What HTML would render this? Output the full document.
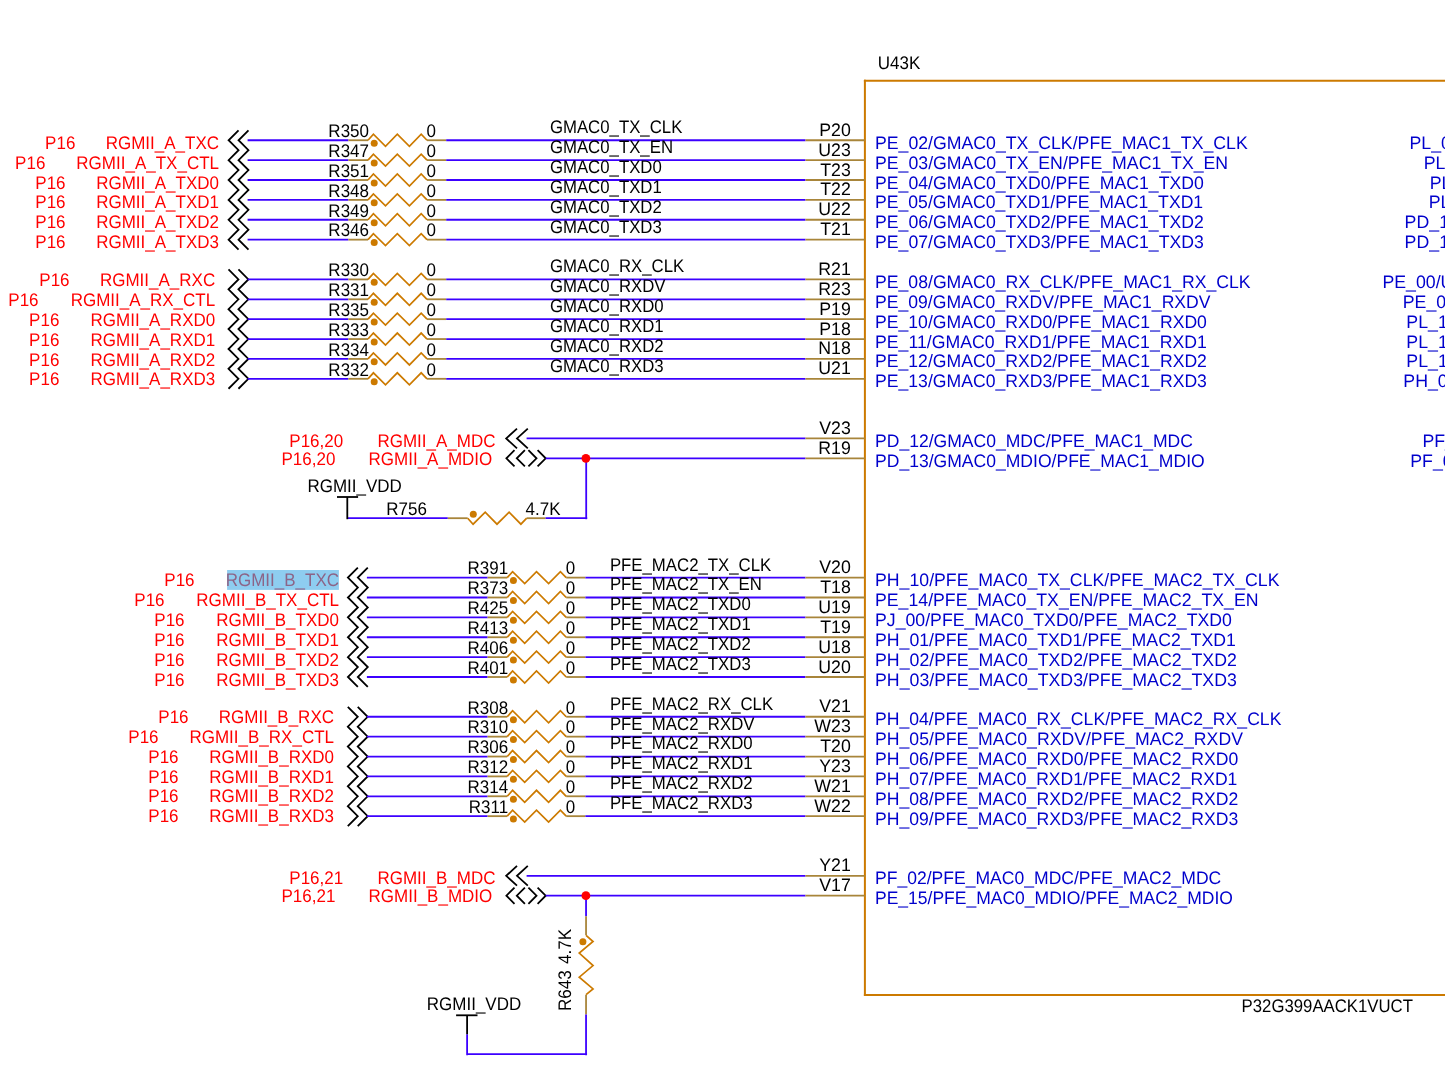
<!DOCTYPE html>
<html><head><meta charset="utf-8"><style>
html,body{margin:0;padding:0;background:#fff;width:1445px;height:1084px;overflow:hidden}
svg{position:absolute;left:0;top:0;font-family:"Liberation Sans",sans-serif;text-rendering:geometricPrecision;will-change:transform}
</style></head><body>
<svg width="1445" height="1084" viewBox="0 0 1445 1084">
<line x1="863.90" y1="80.80" x2="1450.00" y2="80.80" stroke="#cc7a00" stroke-width="2"/>
<line x1="864.90" y1="79.80" x2="864.90" y2="996.00" stroke="#cc7a00" stroke-width="2"/>
<line x1="863.90" y1="995.00" x2="1450.00" y2="995.00" stroke="#cc7a00" stroke-width="2"/>
<text transform="translate(877.70,68.90) scale(1,1.07)" font-size="17" fill="#000000">U43K</text>
<text transform="translate(1241.60,1012.00) scale(1,1.086)" font-size="16.75" fill="#000000">P32G399AACK1VUCT</text>
<polyline points="238.54,130.31 228.60,140.25 238.54,150.19 228.60,160.13 238.54,170.07 228.60,180.01 238.54,189.95 228.60,199.89 238.54,209.83 228.60,219.77 238.54,229.71 228.60,239.65 238.54,249.59" fill="none" stroke="#000000" stroke-width="1.8"/>
<polyline points="248.48,130.31 238.54,140.25 248.48,150.19 238.54,160.13 248.48,170.07 238.54,180.01 248.48,189.95 238.54,199.89 248.48,209.83 238.54,219.77 248.48,229.71 238.54,239.65 248.48,249.59" fill="none" stroke="#000000" stroke-width="1.8"/>
<line x1="247.60" y1="140.25" x2="348.40" y2="140.25" stroke="#3c00ff" stroke-width="1.8"/>
<line x1="348.40" y1="140.25" x2="368.00" y2="140.25" stroke="#a8853a" stroke-width="1.8"/>
<polyline points="368.00,140.25 373.40,134.25 385.50,146.25 397.30,134.25 409.40,146.25 421.20,134.25 427.00,140.25" fill="none" stroke="#cc7a00" stroke-width="1.7"/>
<line x1="427.00" y1="140.25" x2="446.20" y2="140.25" stroke="#a8853a" stroke-width="1.8"/>
<circle cx="374.20" cy="143.15" r="3.5" fill="#cc7a00"/>
<line x1="446.20" y1="140.25" x2="805.50" y2="140.25" stroke="#3c00ff" stroke-width="1.8"/>
<line x1="805.50" y1="140.25" x2="864.90" y2="140.25" stroke="#a8853a" stroke-width="1.8"/>
<text transform="translate(369.00,137.05) scale(1,1.07)" font-size="17" fill="#000000" text-anchor="end">R350</text>
<text transform="translate(426.60,137.05) scale(1,1.07)" font-size="17" fill="#000000">0</text>
<text transform="translate(549.90,133.15) scale(1,1.083)" font-size="16.8" fill="#000000">GMAC0_TX_CLK</text>
<text transform="translate(850.80,135.75) scale(1,1.02)" font-size="17.75" fill="#000000" text-anchor="end">P20</text>
<text transform="translate(875.00,148.75) scale(1,1.02)" font-size="17.75" fill="#0000cc" textLength="372.7" lengthAdjust="spacingAndGlyphs">PE_02/GMAC0_TX_CLK/PFE_MAC1_TX_CLK</text>
<text transform="translate(219.00,148.85) scale(1,1.07)" font-size="17" fill="#ff0000" text-anchor="end">RGMII_A_TXC</text>
<text transform="translate(45.10,148.85) scale(1,1.07)" font-size="17" fill="#ff0000">P16</text>
<line x1="247.60" y1="160.13" x2="348.40" y2="160.13" stroke="#3c00ff" stroke-width="1.8"/>
<line x1="348.40" y1="160.13" x2="368.00" y2="160.13" stroke="#a8853a" stroke-width="1.8"/>
<polyline points="368.00,160.13 373.40,154.13 385.50,166.13 397.30,154.13 409.40,166.13 421.20,154.13 427.00,160.13" fill="none" stroke="#cc7a00" stroke-width="1.7"/>
<line x1="427.00" y1="160.13" x2="446.20" y2="160.13" stroke="#a8853a" stroke-width="1.8"/>
<circle cx="374.20" cy="163.03" r="3.5" fill="#cc7a00"/>
<line x1="446.20" y1="160.13" x2="805.50" y2="160.13" stroke="#3c00ff" stroke-width="1.8"/>
<line x1="805.50" y1="160.13" x2="864.90" y2="160.13" stroke="#a8853a" stroke-width="1.8"/>
<text transform="translate(369.00,156.93) scale(1,1.07)" font-size="17" fill="#000000" text-anchor="end">R347</text>
<text transform="translate(426.60,156.93) scale(1,1.07)" font-size="17" fill="#000000">0</text>
<text transform="translate(549.90,153.03) scale(1,1.083)" font-size="16.8" fill="#000000">GMAC0_TX_EN</text>
<text transform="translate(850.80,155.63) scale(1,1.02)" font-size="17.75" fill="#000000" text-anchor="end">U23</text>
<text transform="translate(875.00,168.63) scale(1,1.02)" font-size="17.75" fill="#0000cc" textLength="353.15" lengthAdjust="spacingAndGlyphs">PE_03/GMAC0_TX_EN/PFE_MAC1_TX_EN</text>
<text transform="translate(219.00,168.73) scale(1,1.07)" font-size="17" fill="#ff0000" text-anchor="end">RGMII_A_TX_CTL</text>
<text transform="translate(15.10,168.73) scale(1,1.07)" font-size="17" fill="#ff0000">P16</text>
<line x1="247.60" y1="180.01" x2="348.40" y2="180.01" stroke="#3c00ff" stroke-width="1.8"/>
<line x1="348.40" y1="180.01" x2="368.00" y2="180.01" stroke="#a8853a" stroke-width="1.8"/>
<polyline points="368.00,180.01 373.40,174.01 385.50,186.01 397.30,174.01 409.40,186.01 421.20,174.01 427.00,180.01" fill="none" stroke="#cc7a00" stroke-width="1.7"/>
<line x1="427.00" y1="180.01" x2="446.20" y2="180.01" stroke="#a8853a" stroke-width="1.8"/>
<circle cx="374.20" cy="182.91" r="3.5" fill="#cc7a00"/>
<line x1="446.20" y1="180.01" x2="805.50" y2="180.01" stroke="#3c00ff" stroke-width="1.8"/>
<line x1="805.50" y1="180.01" x2="864.90" y2="180.01" stroke="#a8853a" stroke-width="1.8"/>
<text transform="translate(369.00,176.81) scale(1,1.07)" font-size="17" fill="#000000" text-anchor="end">R351</text>
<text transform="translate(426.60,176.81) scale(1,1.07)" font-size="17" fill="#000000">0</text>
<text transform="translate(549.90,172.91) scale(1,1.083)" font-size="16.8" fill="#000000">GMAC0_TXD0</text>
<text transform="translate(850.80,175.51) scale(1,1.02)" font-size="17.75" fill="#000000" text-anchor="end">T23</text>
<text transform="translate(875.00,188.51) scale(1,1.02)" font-size="17.75" fill="#0000cc" textLength="328.78" lengthAdjust="spacingAndGlyphs">PE_04/GMAC0_TXD0/PFE_MAC1_TXD0</text>
<text transform="translate(219.00,188.61) scale(1,1.07)" font-size="17" fill="#ff0000" text-anchor="end">RGMII_A_TXD0</text>
<text transform="translate(35.30,188.61) scale(1,1.07)" font-size="17" fill="#ff0000">P16</text>
<line x1="247.60" y1="199.89" x2="348.40" y2="199.89" stroke="#3c00ff" stroke-width="1.8"/>
<line x1="348.40" y1="199.89" x2="368.00" y2="199.89" stroke="#a8853a" stroke-width="1.8"/>
<polyline points="368.00,199.89 373.40,193.89 385.50,205.89 397.30,193.89 409.40,205.89 421.20,193.89 427.00,199.89" fill="none" stroke="#cc7a00" stroke-width="1.7"/>
<line x1="427.00" y1="199.89" x2="446.20" y2="199.89" stroke="#a8853a" stroke-width="1.8"/>
<circle cx="374.20" cy="202.79" r="3.5" fill="#cc7a00"/>
<line x1="446.20" y1="199.89" x2="805.50" y2="199.89" stroke="#3c00ff" stroke-width="1.8"/>
<line x1="805.50" y1="199.89" x2="864.90" y2="199.89" stroke="#a8853a" stroke-width="1.8"/>
<text transform="translate(369.00,196.69) scale(1,1.07)" font-size="17" fill="#000000" text-anchor="end">R348</text>
<text transform="translate(426.60,196.69) scale(1,1.07)" font-size="17" fill="#000000">0</text>
<text transform="translate(549.90,192.79) scale(1,1.083)" font-size="16.8" fill="#000000">GMAC0_TXD1</text>
<text transform="translate(850.80,195.39) scale(1,1.02)" font-size="17.75" fill="#000000" text-anchor="end">T22</text>
<text transform="translate(875.00,208.39) scale(1,1.02)" font-size="17.75" fill="#0000cc" textLength="328.18" lengthAdjust="spacingAndGlyphs">PE_05/GMAC0_TXD1/PFE_MAC1_TXD1</text>
<text transform="translate(219.00,208.49) scale(1,1.07)" font-size="17" fill="#ff0000" text-anchor="end">RGMII_A_TXD1</text>
<text transform="translate(35.30,208.49) scale(1,1.07)" font-size="17" fill="#ff0000">P16</text>
<line x1="247.60" y1="219.77" x2="348.40" y2="219.77" stroke="#3c00ff" stroke-width="1.8"/>
<line x1="348.40" y1="219.77" x2="368.00" y2="219.77" stroke="#a8853a" stroke-width="1.8"/>
<polyline points="368.00,219.77 373.40,213.77 385.50,225.77 397.30,213.77 409.40,225.77 421.20,213.77 427.00,219.77" fill="none" stroke="#cc7a00" stroke-width="1.7"/>
<line x1="427.00" y1="219.77" x2="446.20" y2="219.77" stroke="#a8853a" stroke-width="1.8"/>
<circle cx="374.20" cy="222.67" r="3.5" fill="#cc7a00"/>
<line x1="446.20" y1="219.77" x2="805.50" y2="219.77" stroke="#3c00ff" stroke-width="1.8"/>
<line x1="805.50" y1="219.77" x2="864.90" y2="219.77" stroke="#a8853a" stroke-width="1.8"/>
<text transform="translate(369.00,216.57) scale(1,1.07)" font-size="17" fill="#000000" text-anchor="end">R349</text>
<text transform="translate(426.60,216.57) scale(1,1.07)" font-size="17" fill="#000000">0</text>
<text transform="translate(549.90,212.67) scale(1,1.083)" font-size="16.8" fill="#000000">GMAC0_TXD2</text>
<text transform="translate(850.80,215.27) scale(1,1.02)" font-size="17.75" fill="#000000" text-anchor="end">U22</text>
<text transform="translate(875.00,228.27) scale(1,1.02)" font-size="17.75" fill="#0000cc" textLength="328.78" lengthAdjust="spacingAndGlyphs">PE_06/GMAC0_TXD2/PFE_MAC1_TXD2</text>
<text transform="translate(219.00,228.37) scale(1,1.07)" font-size="17" fill="#ff0000" text-anchor="end">RGMII_A_TXD2</text>
<text transform="translate(35.30,228.37) scale(1,1.07)" font-size="17" fill="#ff0000">P16</text>
<line x1="247.60" y1="239.65" x2="348.40" y2="239.65" stroke="#3c00ff" stroke-width="1.8"/>
<line x1="348.40" y1="239.65" x2="368.00" y2="239.65" stroke="#a8853a" stroke-width="1.8"/>
<polyline points="368.00,239.65 373.40,233.65 385.50,245.65 397.30,233.65 409.40,245.65 421.20,233.65 427.00,239.65" fill="none" stroke="#cc7a00" stroke-width="1.7"/>
<line x1="427.00" y1="239.65" x2="446.20" y2="239.65" stroke="#a8853a" stroke-width="1.8"/>
<circle cx="374.20" cy="242.55" r="3.5" fill="#cc7a00"/>
<line x1="446.20" y1="239.65" x2="805.50" y2="239.65" stroke="#3c00ff" stroke-width="1.8"/>
<line x1="805.50" y1="239.65" x2="864.90" y2="239.65" stroke="#a8853a" stroke-width="1.8"/>
<text transform="translate(369.00,236.45) scale(1,1.07)" font-size="17" fill="#000000" text-anchor="end">R346</text>
<text transform="translate(426.60,236.45) scale(1,1.07)" font-size="17" fill="#000000">0</text>
<text transform="translate(549.90,232.55) scale(1,1.083)" font-size="16.8" fill="#000000">GMAC0_TXD3</text>
<text transform="translate(850.80,235.15) scale(1,1.02)" font-size="17.75" fill="#000000" text-anchor="end">T21</text>
<text transform="translate(875.00,248.15) scale(1,1.02)" font-size="17.75" fill="#0000cc" textLength="328.78" lengthAdjust="spacingAndGlyphs">PE_07/GMAC0_TXD3/PFE_MAC1_TXD3</text>
<text transform="translate(219.00,248.25) scale(1,1.07)" font-size="17" fill="#ff0000" text-anchor="end">RGMII_A_TXD3</text>
<text transform="translate(35.30,248.25) scale(1,1.07)" font-size="17" fill="#ff0000">P16</text>
<polyline points="228.50,269.47 238.44,279.41 228.50,289.35 238.44,299.29 228.50,309.23 238.44,319.17 228.50,329.11 238.44,339.05 228.50,348.99 238.44,358.93 228.50,368.87 238.44,378.81 228.50,388.75" fill="none" stroke="#000000" stroke-width="1.8"/>
<polyline points="238.44,269.47 248.38,279.41 238.44,289.35 248.38,299.29 238.44,309.23 248.38,319.17 238.44,329.11 248.38,339.05 238.44,348.99 248.38,358.93 238.44,368.87 248.38,378.81 238.44,388.75" fill="none" stroke="#000000" stroke-width="1.8"/>
<line x1="247.60" y1="279.41" x2="348.40" y2="279.41" stroke="#3c00ff" stroke-width="1.8"/>
<line x1="348.40" y1="279.41" x2="368.00" y2="279.41" stroke="#a8853a" stroke-width="1.8"/>
<polyline points="368.00,279.41 373.40,273.41 385.50,285.41 397.30,273.41 409.40,285.41 421.20,273.41 427.00,279.41" fill="none" stroke="#cc7a00" stroke-width="1.7"/>
<line x1="427.00" y1="279.41" x2="446.20" y2="279.41" stroke="#a8853a" stroke-width="1.8"/>
<circle cx="374.20" cy="282.31" r="3.5" fill="#cc7a00"/>
<line x1="446.20" y1="279.41" x2="805.50" y2="279.41" stroke="#3c00ff" stroke-width="1.8"/>
<line x1="805.50" y1="279.41" x2="864.90" y2="279.41" stroke="#a8853a" stroke-width="1.8"/>
<text transform="translate(369.00,276.21) scale(1,1.07)" font-size="17" fill="#000000" text-anchor="end">R330</text>
<text transform="translate(426.60,276.21) scale(1,1.07)" font-size="17" fill="#000000">0</text>
<text transform="translate(549.90,272.31) scale(1,1.083)" font-size="16.8" fill="#000000">GMAC0_RX_CLK</text>
<text transform="translate(850.80,274.91) scale(1,1.02)" font-size="17.75" fill="#000000" text-anchor="end">R21</text>
<text transform="translate(875.00,287.91) scale(1,1.02)" font-size="17.75" fill="#0000cc" textLength="375.65" lengthAdjust="spacingAndGlyphs">PE_08/GMAC0_RX_CLK/PFE_MAC1_RX_CLK</text>
<text transform="translate(215.20,286.01) scale(1,1.07)" font-size="17" fill="#ff0000" text-anchor="end">RGMII_A_RXC</text>
<text transform="translate(39.30,286.01) scale(1,1.07)" font-size="17" fill="#ff0000">P16</text>
<line x1="247.60" y1="299.29" x2="348.40" y2="299.29" stroke="#3c00ff" stroke-width="1.8"/>
<line x1="348.40" y1="299.29" x2="368.00" y2="299.29" stroke="#a8853a" stroke-width="1.8"/>
<polyline points="368.00,299.29 373.40,293.29 385.50,305.29 397.30,293.29 409.40,305.29 421.20,293.29 427.00,299.29" fill="none" stroke="#cc7a00" stroke-width="1.7"/>
<line x1="427.00" y1="299.29" x2="446.20" y2="299.29" stroke="#a8853a" stroke-width="1.8"/>
<circle cx="374.20" cy="302.19" r="3.5" fill="#cc7a00"/>
<line x1="446.20" y1="299.29" x2="805.50" y2="299.29" stroke="#3c00ff" stroke-width="1.8"/>
<line x1="805.50" y1="299.29" x2="864.90" y2="299.29" stroke="#a8853a" stroke-width="1.8"/>
<text transform="translate(369.00,296.09) scale(1,1.07)" font-size="17" fill="#000000" text-anchor="end">R331</text>
<text transform="translate(426.60,296.09) scale(1,1.07)" font-size="17" fill="#000000">0</text>
<text transform="translate(549.90,292.19) scale(1,1.083)" font-size="16.8" fill="#000000">GMAC0_RXDV</text>
<text transform="translate(850.80,294.79) scale(1,1.02)" font-size="17.75" fill="#000000" text-anchor="end">R23</text>
<text transform="translate(875.00,307.79) scale(1,1.02)" font-size="17.75" fill="#0000cc" textLength="335.56" lengthAdjust="spacingAndGlyphs">PE_09/GMAC0_RXDV/PFE_MAC1_RXDV</text>
<text transform="translate(215.20,305.89) scale(1,1.07)" font-size="17" fill="#ff0000" text-anchor="end">RGMII_A_RX_CTL</text>
<text transform="translate(8.30,305.89) scale(1,1.07)" font-size="17" fill="#ff0000">P16</text>
<line x1="247.60" y1="319.17" x2="348.40" y2="319.17" stroke="#3c00ff" stroke-width="1.8"/>
<line x1="348.40" y1="319.17" x2="368.00" y2="319.17" stroke="#a8853a" stroke-width="1.8"/>
<polyline points="368.00,319.17 373.40,313.17 385.50,325.17 397.30,313.17 409.40,325.17 421.20,313.17 427.00,319.17" fill="none" stroke="#cc7a00" stroke-width="1.7"/>
<line x1="427.00" y1="319.17" x2="446.20" y2="319.17" stroke="#a8853a" stroke-width="1.8"/>
<circle cx="374.20" cy="322.07" r="3.5" fill="#cc7a00"/>
<line x1="446.20" y1="319.17" x2="805.50" y2="319.17" stroke="#3c00ff" stroke-width="1.8"/>
<line x1="805.50" y1="319.17" x2="864.90" y2="319.17" stroke="#a8853a" stroke-width="1.8"/>
<text transform="translate(369.00,315.97) scale(1,1.07)" font-size="17" fill="#000000" text-anchor="end">R335</text>
<text transform="translate(426.60,315.97) scale(1,1.07)" font-size="17" fill="#000000">0</text>
<text transform="translate(549.90,312.07) scale(1,1.083)" font-size="16.8" fill="#000000">GMAC0_RXD0</text>
<text transform="translate(850.80,314.67) scale(1,1.02)" font-size="17.75" fill="#000000" text-anchor="end">P19</text>
<text transform="translate(875.00,327.67) scale(1,1.02)" font-size="17.75" fill="#0000cc" textLength="331.93" lengthAdjust="spacingAndGlyphs">PE_10/GMAC0_RXD0/PFE_MAC1_RXD0</text>
<text transform="translate(215.20,325.77) scale(1,1.07)" font-size="17" fill="#ff0000" text-anchor="end">RGMII_A_RXD0</text>
<text transform="translate(29.10,325.77) scale(1,1.07)" font-size="17" fill="#ff0000">P16</text>
<line x1="247.60" y1="339.05" x2="348.40" y2="339.05" stroke="#3c00ff" stroke-width="1.8"/>
<line x1="348.40" y1="339.05" x2="368.00" y2="339.05" stroke="#a8853a" stroke-width="1.8"/>
<polyline points="368.00,339.05 373.40,333.05 385.50,345.05 397.30,333.05 409.40,345.05 421.20,333.05 427.00,339.05" fill="none" stroke="#cc7a00" stroke-width="1.7"/>
<line x1="427.00" y1="339.05" x2="446.20" y2="339.05" stroke="#a8853a" stroke-width="1.8"/>
<circle cx="374.20" cy="341.95" r="3.5" fill="#cc7a00"/>
<line x1="446.20" y1="339.05" x2="805.50" y2="339.05" stroke="#3c00ff" stroke-width="1.8"/>
<line x1="805.50" y1="339.05" x2="864.90" y2="339.05" stroke="#a8853a" stroke-width="1.8"/>
<text transform="translate(369.00,335.85) scale(1,1.07)" font-size="17" fill="#000000" text-anchor="end">R333</text>
<text transform="translate(426.60,335.85) scale(1,1.07)" font-size="17" fill="#000000">0</text>
<text transform="translate(549.90,331.95) scale(1,1.083)" font-size="16.8" fill="#000000">GMAC0_RXD1</text>
<text transform="translate(850.80,334.55) scale(1,1.02)" font-size="17.75" fill="#000000" text-anchor="end">P18</text>
<text transform="translate(875.00,347.55) scale(1,1.02)" font-size="17.75" fill="#0000cc" textLength="331.91" lengthAdjust="spacingAndGlyphs">PE_11/GMAC0_RXD1/PFE_MAC1_RXD1</text>
<text transform="translate(215.20,345.65) scale(1,1.07)" font-size="17" fill="#ff0000" text-anchor="end">RGMII_A_RXD1</text>
<text transform="translate(29.10,345.65) scale(1,1.07)" font-size="17" fill="#ff0000">P16</text>
<line x1="247.60" y1="358.93" x2="348.40" y2="358.93" stroke="#3c00ff" stroke-width="1.8"/>
<line x1="348.40" y1="358.93" x2="368.00" y2="358.93" stroke="#a8853a" stroke-width="1.8"/>
<polyline points="368.00,358.93 373.40,352.93 385.50,364.93 397.30,352.93 409.40,364.93 421.20,352.93 427.00,358.93" fill="none" stroke="#cc7a00" stroke-width="1.7"/>
<line x1="427.00" y1="358.93" x2="446.20" y2="358.93" stroke="#a8853a" stroke-width="1.8"/>
<circle cx="374.20" cy="361.83" r="3.5" fill="#cc7a00"/>
<line x1="446.20" y1="358.93" x2="805.50" y2="358.93" stroke="#3c00ff" stroke-width="1.8"/>
<line x1="805.50" y1="358.93" x2="864.90" y2="358.93" stroke="#a8853a" stroke-width="1.8"/>
<text transform="translate(369.00,355.73) scale(1,1.07)" font-size="17" fill="#000000" text-anchor="end">R334</text>
<text transform="translate(426.60,355.73) scale(1,1.07)" font-size="17" fill="#000000">0</text>
<text transform="translate(549.90,351.83) scale(1,1.083)" font-size="16.8" fill="#000000">GMAC0_RXD2</text>
<text transform="translate(850.80,354.43) scale(1,1.02)" font-size="17.75" fill="#000000" text-anchor="end">N18</text>
<text transform="translate(875.00,367.43) scale(1,1.02)" font-size="17.75" fill="#0000cc" textLength="331.93" lengthAdjust="spacingAndGlyphs">PE_12/GMAC0_RXD2/PFE_MAC1_RXD2</text>
<text transform="translate(215.20,365.53) scale(1,1.07)" font-size="17" fill="#ff0000" text-anchor="end">RGMII_A_RXD2</text>
<text transform="translate(29.10,365.53) scale(1,1.07)" font-size="17" fill="#ff0000">P16</text>
<line x1="247.60" y1="378.81" x2="348.40" y2="378.81" stroke="#3c00ff" stroke-width="1.8"/>
<line x1="348.40" y1="378.81" x2="368.00" y2="378.81" stroke="#a8853a" stroke-width="1.8"/>
<polyline points="368.00,378.81 373.40,372.81 385.50,384.81 397.30,372.81 409.40,384.81 421.20,372.81 427.00,378.81" fill="none" stroke="#cc7a00" stroke-width="1.7"/>
<line x1="427.00" y1="378.81" x2="446.20" y2="378.81" stroke="#a8853a" stroke-width="1.8"/>
<circle cx="374.20" cy="381.71" r="3.5" fill="#cc7a00"/>
<line x1="446.20" y1="378.81" x2="805.50" y2="378.81" stroke="#3c00ff" stroke-width="1.8"/>
<line x1="805.50" y1="378.81" x2="864.90" y2="378.81" stroke="#a8853a" stroke-width="1.8"/>
<text transform="translate(369.00,375.61) scale(1,1.07)" font-size="17" fill="#000000" text-anchor="end">R332</text>
<text transform="translate(426.60,375.61) scale(1,1.07)" font-size="17" fill="#000000">0</text>
<text transform="translate(549.90,371.71) scale(1,1.083)" font-size="16.8" fill="#000000">GMAC0_RXD3</text>
<text transform="translate(850.80,374.31) scale(1,1.02)" font-size="17.75" fill="#000000" text-anchor="end">U21</text>
<text transform="translate(875.00,387.31) scale(1,1.02)" font-size="17.75" fill="#0000cc" textLength="331.93" lengthAdjust="spacingAndGlyphs">PE_13/GMAC0_RXD3/PFE_MAC1_RXD3</text>
<text transform="translate(215.20,385.41) scale(1,1.07)" font-size="17" fill="#ff0000" text-anchor="end">RGMII_A_RXD3</text>
<text transform="translate(29.10,385.41) scale(1,1.07)" font-size="17" fill="#ff0000">P16</text>
<polyline points="357.84,567.67 347.90,577.61 357.84,587.55 347.90,597.49 357.84,607.43 347.90,617.37 357.84,627.31 347.90,637.25 357.84,647.19 347.90,657.13 357.84,667.07 347.90,677.01 357.84,686.95" fill="none" stroke="#000000" stroke-width="1.8"/>
<polyline points="367.78,567.67 357.84,577.61 367.78,587.55 357.84,597.49 367.78,607.43 357.84,617.37 367.78,627.31 357.84,637.25 367.78,647.19 357.84,657.13 367.78,667.07 357.84,677.01 367.78,686.95" fill="none" stroke="#000000" stroke-width="1.8"/>
<line x1="366.90" y1="577.61" x2="487.60" y2="577.61" stroke="#3c00ff" stroke-width="1.8"/>
<line x1="487.60" y1="577.61" x2="507.20" y2="577.61" stroke="#a8853a" stroke-width="1.8"/>
<polyline points="507.20,577.61 512.60,571.61 524.70,583.61 536.50,571.61 548.60,583.61 560.40,571.61 566.20,577.61" fill="none" stroke="#cc7a00" stroke-width="1.7"/>
<line x1="566.20" y1="577.61" x2="585.40" y2="577.61" stroke="#a8853a" stroke-width="1.8"/>
<circle cx="513.40" cy="580.51" r="3.5" fill="#cc7a00"/>
<line x1="585.40" y1="577.61" x2="805.50" y2="577.61" stroke="#3c00ff" stroke-width="1.8"/>
<line x1="805.50" y1="577.61" x2="864.90" y2="577.61" stroke="#a8853a" stroke-width="1.8"/>
<text transform="translate(508.20,574.41) scale(1,1.07)" font-size="17" fill="#000000" text-anchor="end">R391</text>
<text transform="translate(565.80,574.41) scale(1,1.07)" font-size="17" fill="#000000">0</text>
<text transform="translate(609.90,570.51) scale(1,1.083)" font-size="16.8" fill="#000000">PFE_MAC2_TX_CLK</text>
<text transform="translate(850.80,573.11) scale(1,1.02)" font-size="17.75" fill="#000000" text-anchor="end">V20</text>
<text transform="translate(875.00,586.11) scale(1,1.02)" font-size="17.75" fill="#0000cc" textLength="404.47" lengthAdjust="spacingAndGlyphs">PH_10/PFE_MAC0_TX_CLK/PFE_MAC2_TX_CLK</text>
<rect x="227.1" y="570" width="111.8" height="19.9" fill="#8ecdf0"/>
<text transform="translate(339.00,586.11) scale(1,1.07)" font-size="17" fill="#8c6487" text-anchor="end">RGMII_B_TXC</text>
<text transform="translate(164.30,586.11) scale(1,1.07)" font-size="17" fill="#ff0000">P16</text>
<line x1="366.90" y1="597.49" x2="487.60" y2="597.49" stroke="#3c00ff" stroke-width="1.8"/>
<line x1="487.60" y1="597.49" x2="507.20" y2="597.49" stroke="#a8853a" stroke-width="1.8"/>
<polyline points="507.20,597.49 512.60,591.49 524.70,603.49 536.50,591.49 548.60,603.49 560.40,591.49 566.20,597.49" fill="none" stroke="#cc7a00" stroke-width="1.7"/>
<line x1="566.20" y1="597.49" x2="585.40" y2="597.49" stroke="#a8853a" stroke-width="1.8"/>
<circle cx="513.40" cy="600.39" r="3.5" fill="#cc7a00"/>
<line x1="585.40" y1="597.49" x2="805.50" y2="597.49" stroke="#3c00ff" stroke-width="1.8"/>
<line x1="805.50" y1="597.49" x2="864.90" y2="597.49" stroke="#a8853a" stroke-width="1.8"/>
<text transform="translate(508.20,594.29) scale(1,1.07)" font-size="17" fill="#000000" text-anchor="end">R373</text>
<text transform="translate(565.80,594.29) scale(1,1.07)" font-size="17" fill="#000000">0</text>
<text transform="translate(609.90,590.39) scale(1,1.083)" font-size="16.8" fill="#000000">PFE_MAC2_TX_EN</text>
<text transform="translate(850.80,592.99) scale(1,1.02)" font-size="17.75" fill="#000000" text-anchor="end">T18</text>
<text transform="translate(875.00,605.99) scale(1,1.02)" font-size="17.75" fill="#0000cc" textLength="383.54" lengthAdjust="spacingAndGlyphs">PE_14/PFE_MAC0_TX_EN/PFE_MAC2_TX_EN</text>
<text transform="translate(339.00,605.99) scale(1,1.07)" font-size="17" fill="#ff0000" text-anchor="end">RGMII_B_TX_CTL</text>
<text transform="translate(134.30,605.99) scale(1,1.07)" font-size="17" fill="#ff0000">P16</text>
<line x1="366.90" y1="617.37" x2="487.60" y2="617.37" stroke="#3c00ff" stroke-width="1.8"/>
<line x1="487.60" y1="617.37" x2="507.20" y2="617.37" stroke="#a8853a" stroke-width="1.8"/>
<polyline points="507.20,617.37 512.60,611.37 524.70,623.37 536.50,611.37 548.60,623.37 560.40,611.37 566.20,617.37" fill="none" stroke="#cc7a00" stroke-width="1.7"/>
<line x1="566.20" y1="617.37" x2="585.40" y2="617.37" stroke="#a8853a" stroke-width="1.8"/>
<circle cx="513.40" cy="620.27" r="3.5" fill="#cc7a00"/>
<line x1="585.40" y1="617.37" x2="805.50" y2="617.37" stroke="#3c00ff" stroke-width="1.8"/>
<line x1="805.50" y1="617.37" x2="864.90" y2="617.37" stroke="#a8853a" stroke-width="1.8"/>
<text transform="translate(508.20,614.17) scale(1,1.07)" font-size="17" fill="#000000" text-anchor="end">R425</text>
<text transform="translate(565.80,614.17) scale(1,1.07)" font-size="17" fill="#000000">0</text>
<text transform="translate(609.90,610.27) scale(1,1.083)" font-size="16.8" fill="#000000">PFE_MAC2_TXD0</text>
<text transform="translate(850.80,612.87) scale(1,1.02)" font-size="17.75" fill="#000000" text-anchor="end">U19</text>
<text transform="translate(875.00,625.87) scale(1,1.02)" font-size="17.75" fill="#0000cc" textLength="356.91" lengthAdjust="spacingAndGlyphs">PJ_00/PFE_MAC0_TXD0/PFE_MAC2_TXD0</text>
<text transform="translate(339.00,625.87) scale(1,1.07)" font-size="17" fill="#ff0000" text-anchor="end">RGMII_B_TXD0</text>
<text transform="translate(154.30,625.87) scale(1,1.07)" font-size="17" fill="#ff0000">P16</text>
<line x1="366.90" y1="637.25" x2="487.60" y2="637.25" stroke="#3c00ff" stroke-width="1.8"/>
<line x1="487.60" y1="637.25" x2="507.20" y2="637.25" stroke="#a8853a" stroke-width="1.8"/>
<polyline points="507.20,637.25 512.60,631.25 524.70,643.25 536.50,631.25 548.60,643.25 560.40,631.25 566.20,637.25" fill="none" stroke="#cc7a00" stroke-width="1.7"/>
<line x1="566.20" y1="637.25" x2="585.40" y2="637.25" stroke="#a8853a" stroke-width="1.8"/>
<circle cx="513.40" cy="640.15" r="3.5" fill="#cc7a00"/>
<line x1="585.40" y1="637.25" x2="805.50" y2="637.25" stroke="#3c00ff" stroke-width="1.8"/>
<line x1="805.50" y1="637.25" x2="864.90" y2="637.25" stroke="#a8853a" stroke-width="1.8"/>
<text transform="translate(508.20,634.05) scale(1,1.07)" font-size="17" fill="#000000" text-anchor="end">R413</text>
<text transform="translate(565.80,634.05) scale(1,1.07)" font-size="17" fill="#000000">0</text>
<text transform="translate(609.90,630.15) scale(1,1.083)" font-size="16.8" fill="#000000">PFE_MAC2_TXD1</text>
<text transform="translate(850.80,632.75) scale(1,1.02)" font-size="17.75" fill="#000000" text-anchor="end">T19</text>
<text transform="translate(875.00,645.75) scale(1,1.02)" font-size="17.75" fill="#0000cc" textLength="360.84" lengthAdjust="spacingAndGlyphs">PH_01/PFE_MAC0_TXD1/PFE_MAC2_TXD1</text>
<text transform="translate(339.00,645.75) scale(1,1.07)" font-size="17" fill="#ff0000" text-anchor="end">RGMII_B_TXD1</text>
<text transform="translate(154.30,645.75) scale(1,1.07)" font-size="17" fill="#ff0000">P16</text>
<line x1="366.90" y1="657.13" x2="487.60" y2="657.13" stroke="#3c00ff" stroke-width="1.8"/>
<line x1="487.60" y1="657.13" x2="507.20" y2="657.13" stroke="#a8853a" stroke-width="1.8"/>
<polyline points="507.20,657.13 512.60,651.13 524.70,663.13 536.50,651.13 548.60,663.13 560.40,651.13 566.20,657.13" fill="none" stroke="#cc7a00" stroke-width="1.7"/>
<line x1="566.20" y1="657.13" x2="585.40" y2="657.13" stroke="#a8853a" stroke-width="1.8"/>
<circle cx="513.40" cy="660.03" r="3.5" fill="#cc7a00"/>
<line x1="585.40" y1="657.13" x2="805.50" y2="657.13" stroke="#3c00ff" stroke-width="1.8"/>
<line x1="805.50" y1="657.13" x2="864.90" y2="657.13" stroke="#a8853a" stroke-width="1.8"/>
<text transform="translate(508.20,653.93) scale(1,1.07)" font-size="17" fill="#000000" text-anchor="end">R406</text>
<text transform="translate(565.80,653.93) scale(1,1.07)" font-size="17" fill="#000000">0</text>
<text transform="translate(609.90,650.03) scale(1,1.083)" font-size="16.8" fill="#000000">PFE_MAC2_TXD2</text>
<text transform="translate(850.80,652.63) scale(1,1.02)" font-size="17.75" fill="#000000" text-anchor="end">U18</text>
<text transform="translate(875.00,665.63) scale(1,1.02)" font-size="17.75" fill="#0000cc" textLength="361.85" lengthAdjust="spacingAndGlyphs">PH_02/PFE_MAC0_TXD2/PFE_MAC2_TXD2</text>
<text transform="translate(339.00,665.63) scale(1,1.07)" font-size="17" fill="#ff0000" text-anchor="end">RGMII_B_TXD2</text>
<text transform="translate(154.30,665.63) scale(1,1.07)" font-size="17" fill="#ff0000">P16</text>
<line x1="366.90" y1="677.01" x2="487.60" y2="677.01" stroke="#3c00ff" stroke-width="1.8"/>
<line x1="487.60" y1="677.01" x2="507.20" y2="677.01" stroke="#a8853a" stroke-width="1.8"/>
<polyline points="507.20,677.01 512.60,671.01 524.70,683.01 536.50,671.01 548.60,683.01 560.40,671.01 566.20,677.01" fill="none" stroke="#cc7a00" stroke-width="1.7"/>
<line x1="566.20" y1="677.01" x2="585.40" y2="677.01" stroke="#a8853a" stroke-width="1.8"/>
<circle cx="513.40" cy="679.91" r="3.5" fill="#cc7a00"/>
<line x1="585.40" y1="677.01" x2="805.50" y2="677.01" stroke="#3c00ff" stroke-width="1.8"/>
<line x1="805.50" y1="677.01" x2="864.90" y2="677.01" stroke="#a8853a" stroke-width="1.8"/>
<text transform="translate(508.20,673.81) scale(1,1.07)" font-size="17" fill="#000000" text-anchor="end">R401</text>
<text transform="translate(565.80,673.81) scale(1,1.07)" font-size="17" fill="#000000">0</text>
<text transform="translate(609.90,669.91) scale(1,1.083)" font-size="16.8" fill="#000000">PFE_MAC2_TXD3</text>
<text transform="translate(850.80,672.51) scale(1,1.02)" font-size="17.75" fill="#000000" text-anchor="end">U20</text>
<text transform="translate(875.00,685.51) scale(1,1.02)" font-size="17.75" fill="#0000cc" textLength="361.85" lengthAdjust="spacingAndGlyphs">PH_03/PFE_MAC0_TXD3/PFE_MAC2_TXD3</text>
<text transform="translate(339.00,685.51) scale(1,1.07)" font-size="17" fill="#ff0000" text-anchor="end">RGMII_B_TXD3</text>
<text transform="translate(154.30,685.51) scale(1,1.07)" font-size="17" fill="#ff0000">P16</text>
<polyline points="347.80,706.83 357.74,716.77 347.80,726.71 357.74,736.65 347.80,746.59 357.74,756.53 347.80,766.47 357.74,776.41 347.80,786.35 357.74,796.29 347.80,806.23 357.74,816.17 347.80,826.11" fill="none" stroke="#000000" stroke-width="1.8"/>
<polyline points="357.74,706.83 367.68,716.77 357.74,726.71 367.68,736.65 357.74,746.59 367.68,756.53 357.74,766.47 367.68,776.41 357.74,786.35 367.68,796.29 357.74,806.23 367.68,816.17 357.74,826.11" fill="none" stroke="#000000" stroke-width="1.8"/>
<line x1="366.90" y1="716.77" x2="487.60" y2="716.77" stroke="#3c00ff" stroke-width="1.8"/>
<line x1="487.60" y1="716.77" x2="507.20" y2="716.77" stroke="#a8853a" stroke-width="1.8"/>
<polyline points="507.20,716.77 512.60,710.77 524.70,722.77 536.50,710.77 548.60,722.77 560.40,710.77 566.20,716.77" fill="none" stroke="#cc7a00" stroke-width="1.7"/>
<line x1="566.20" y1="716.77" x2="585.40" y2="716.77" stroke="#a8853a" stroke-width="1.8"/>
<circle cx="513.40" cy="719.67" r="3.5" fill="#cc7a00"/>
<line x1="585.40" y1="716.77" x2="805.50" y2="716.77" stroke="#3c00ff" stroke-width="1.8"/>
<line x1="805.50" y1="716.77" x2="864.90" y2="716.77" stroke="#a8853a" stroke-width="1.8"/>
<text transform="translate(508.20,713.57) scale(1,1.07)" font-size="17" fill="#000000" text-anchor="end">R308</text>
<text transform="translate(565.80,713.57) scale(1,1.07)" font-size="17" fill="#000000">0</text>
<text transform="translate(609.90,709.67) scale(1,1.083)" font-size="16.8" fill="#000000">PFE_MAC2_RX_CLK</text>
<text transform="translate(850.80,712.27) scale(1,1.02)" font-size="17.75" fill="#000000" text-anchor="end">V21</text>
<text transform="translate(875.00,725.27) scale(1,1.02)" font-size="17.75" fill="#0000cc" textLength="406.42" lengthAdjust="spacingAndGlyphs">PH_04/PFE_MAC0_RX_CLK/PFE_MAC2_RX_CLK</text>
<text transform="translate(334.00,722.97) scale(1,1.07)" font-size="17" fill="#ff0000" text-anchor="end">RGMII_B_RXC</text>
<text transform="translate(158.30,722.97) scale(1,1.07)" font-size="17" fill="#ff0000">P16</text>
<line x1="366.90" y1="736.65" x2="487.60" y2="736.65" stroke="#3c00ff" stroke-width="1.8"/>
<line x1="487.60" y1="736.65" x2="507.20" y2="736.65" stroke="#a8853a" stroke-width="1.8"/>
<polyline points="507.20,736.65 512.60,730.65 524.70,742.65 536.50,730.65 548.60,742.65 560.40,730.65 566.20,736.65" fill="none" stroke="#cc7a00" stroke-width="1.7"/>
<line x1="566.20" y1="736.65" x2="585.40" y2="736.65" stroke="#a8853a" stroke-width="1.8"/>
<circle cx="513.40" cy="739.55" r="3.5" fill="#cc7a00"/>
<line x1="585.40" y1="736.65" x2="805.50" y2="736.65" stroke="#3c00ff" stroke-width="1.8"/>
<line x1="805.50" y1="736.65" x2="864.90" y2="736.65" stroke="#a8853a" stroke-width="1.8"/>
<text transform="translate(508.20,733.45) scale(1,1.07)" font-size="17" fill="#000000" text-anchor="end">R310</text>
<text transform="translate(565.80,733.45) scale(1,1.07)" font-size="17" fill="#000000">0</text>
<text transform="translate(609.90,729.55) scale(1,1.083)" font-size="16.8" fill="#000000">PFE_MAC2_RXDV</text>
<text transform="translate(850.80,732.15) scale(1,1.02)" font-size="17.75" fill="#000000" text-anchor="end">W23</text>
<text transform="translate(875.00,745.15) scale(1,1.02)" font-size="17.75" fill="#0000cc" textLength="367.93" lengthAdjust="spacingAndGlyphs">PH_05/PFE_MAC0_RXDV/PFE_MAC2_RXDV</text>
<text transform="translate(334.00,742.85) scale(1,1.07)" font-size="17" fill="#ff0000" text-anchor="end">RGMII_B_RX_CTL</text>
<text transform="translate(128.30,742.85) scale(1,1.07)" font-size="17" fill="#ff0000">P16</text>
<line x1="366.90" y1="756.53" x2="487.60" y2="756.53" stroke="#3c00ff" stroke-width="1.8"/>
<line x1="487.60" y1="756.53" x2="507.20" y2="756.53" stroke="#a8853a" stroke-width="1.8"/>
<polyline points="507.20,756.53 512.60,750.53 524.70,762.53 536.50,750.53 548.60,762.53 560.40,750.53 566.20,756.53" fill="none" stroke="#cc7a00" stroke-width="1.7"/>
<line x1="566.20" y1="756.53" x2="585.40" y2="756.53" stroke="#a8853a" stroke-width="1.8"/>
<circle cx="513.40" cy="759.43" r="3.5" fill="#cc7a00"/>
<line x1="585.40" y1="756.53" x2="805.50" y2="756.53" stroke="#3c00ff" stroke-width="1.8"/>
<line x1="805.50" y1="756.53" x2="864.90" y2="756.53" stroke="#a8853a" stroke-width="1.8"/>
<text transform="translate(508.20,753.33) scale(1,1.07)" font-size="17" fill="#000000" text-anchor="end">R306</text>
<text transform="translate(565.80,753.33) scale(1,1.07)" font-size="17" fill="#000000">0</text>
<text transform="translate(609.90,749.43) scale(1,1.083)" font-size="16.8" fill="#000000">PFE_MAC2_RXD0</text>
<text transform="translate(850.80,752.03) scale(1,1.02)" font-size="17.75" fill="#000000" text-anchor="end">T20</text>
<text transform="translate(875.00,765.03) scale(1,1.02)" font-size="17.75" fill="#0000cc" textLength="363.29" lengthAdjust="spacingAndGlyphs">PH_06/PFE_MAC0_RXD0/PFE_MAC2_RXD0</text>
<text transform="translate(334.00,762.73) scale(1,1.07)" font-size="17" fill="#ff0000" text-anchor="end">RGMII_B_RXD0</text>
<text transform="translate(148.30,762.73) scale(1,1.07)" font-size="17" fill="#ff0000">P16</text>
<line x1="366.90" y1="776.41" x2="487.60" y2="776.41" stroke="#3c00ff" stroke-width="1.8"/>
<line x1="487.60" y1="776.41" x2="507.20" y2="776.41" stroke="#a8853a" stroke-width="1.8"/>
<polyline points="507.20,776.41 512.60,770.41 524.70,782.41 536.50,770.41 548.60,782.41 560.40,770.41 566.20,776.41" fill="none" stroke="#cc7a00" stroke-width="1.7"/>
<line x1="566.20" y1="776.41" x2="585.40" y2="776.41" stroke="#a8853a" stroke-width="1.8"/>
<circle cx="513.40" cy="779.31" r="3.5" fill="#cc7a00"/>
<line x1="585.40" y1="776.41" x2="805.50" y2="776.41" stroke="#3c00ff" stroke-width="1.8"/>
<line x1="805.50" y1="776.41" x2="864.90" y2="776.41" stroke="#a8853a" stroke-width="1.8"/>
<text transform="translate(508.20,773.21) scale(1,1.07)" font-size="17" fill="#000000" text-anchor="end">R312</text>
<text transform="translate(565.80,773.21) scale(1,1.07)" font-size="17" fill="#000000">0</text>
<text transform="translate(609.90,769.31) scale(1,1.083)" font-size="16.8" fill="#000000">PFE_MAC2_RXD1</text>
<text transform="translate(850.80,771.91) scale(1,1.02)" font-size="17.75" fill="#000000" text-anchor="end">Y23</text>
<text transform="translate(875.00,784.91) scale(1,1.02)" font-size="17.75" fill="#0000cc" textLength="362.39" lengthAdjust="spacingAndGlyphs">PH_07/PFE_MAC0_RXD1/PFE_MAC2_RXD1</text>
<text transform="translate(334.00,782.61) scale(1,1.07)" font-size="17" fill="#ff0000" text-anchor="end">RGMII_B_RXD1</text>
<text transform="translate(148.30,782.61) scale(1,1.07)" font-size="17" fill="#ff0000">P16</text>
<line x1="366.90" y1="796.29" x2="487.60" y2="796.29" stroke="#3c00ff" stroke-width="1.8"/>
<line x1="487.60" y1="796.29" x2="507.20" y2="796.29" stroke="#a8853a" stroke-width="1.8"/>
<polyline points="507.20,796.29 512.60,790.29 524.70,802.29 536.50,790.29 548.60,802.29 560.40,790.29 566.20,796.29" fill="none" stroke="#cc7a00" stroke-width="1.7"/>
<line x1="566.20" y1="796.29" x2="585.40" y2="796.29" stroke="#a8853a" stroke-width="1.8"/>
<circle cx="513.40" cy="799.19" r="3.5" fill="#cc7a00"/>
<line x1="585.40" y1="796.29" x2="805.50" y2="796.29" stroke="#3c00ff" stroke-width="1.8"/>
<line x1="805.50" y1="796.29" x2="864.90" y2="796.29" stroke="#a8853a" stroke-width="1.8"/>
<text transform="translate(508.20,793.09) scale(1,1.07)" font-size="17" fill="#000000" text-anchor="end">R314</text>
<text transform="translate(565.80,793.09) scale(1,1.07)" font-size="17" fill="#000000">0</text>
<text transform="translate(609.90,789.19) scale(1,1.083)" font-size="16.8" fill="#000000">PFE_MAC2_RXD2</text>
<text transform="translate(850.80,791.79) scale(1,1.02)" font-size="17.75" fill="#000000" text-anchor="end">W21</text>
<text transform="translate(875.00,804.79) scale(1,1.02)" font-size="17.75" fill="#0000cc" textLength="363.29" lengthAdjust="spacingAndGlyphs">PH_08/PFE_MAC0_RXD2/PFE_MAC2_RXD2</text>
<text transform="translate(334.00,802.49) scale(1,1.07)" font-size="17" fill="#ff0000" text-anchor="end">RGMII_B_RXD2</text>
<text transform="translate(148.30,802.49) scale(1,1.07)" font-size="17" fill="#ff0000">P16</text>
<line x1="366.90" y1="816.17" x2="487.60" y2="816.17" stroke="#3c00ff" stroke-width="1.8"/>
<line x1="487.60" y1="816.17" x2="507.20" y2="816.17" stroke="#a8853a" stroke-width="1.8"/>
<polyline points="507.20,816.17 512.60,810.17 524.70,822.17 536.50,810.17 548.60,822.17 560.40,810.17 566.20,816.17" fill="none" stroke="#cc7a00" stroke-width="1.7"/>
<line x1="566.20" y1="816.17" x2="585.40" y2="816.17" stroke="#a8853a" stroke-width="1.8"/>
<circle cx="513.40" cy="819.07" r="3.5" fill="#cc7a00"/>
<line x1="585.40" y1="816.17" x2="805.50" y2="816.17" stroke="#3c00ff" stroke-width="1.8"/>
<line x1="805.50" y1="816.17" x2="864.90" y2="816.17" stroke="#a8853a" stroke-width="1.8"/>
<text transform="translate(508.20,812.97) scale(1,1.07)" font-size="17" fill="#000000" text-anchor="end">R311</text>
<text transform="translate(565.80,812.97) scale(1,1.07)" font-size="17" fill="#000000">0</text>
<text transform="translate(609.90,809.07) scale(1,1.083)" font-size="16.8" fill="#000000">PFE_MAC2_RXD3</text>
<text transform="translate(850.80,811.67) scale(1,1.02)" font-size="17.75" fill="#000000" text-anchor="end">W22</text>
<text transform="translate(875.00,824.67) scale(1,1.02)" font-size="17.75" fill="#0000cc" textLength="363.29" lengthAdjust="spacingAndGlyphs">PH_09/PFE_MAC0_RXD3/PFE_MAC2_RXD3</text>
<text transform="translate(334.00,822.37) scale(1,1.07)" font-size="17" fill="#ff0000" text-anchor="end">RGMII_B_RXD3</text>
<text transform="translate(148.30,822.37) scale(1,1.07)" font-size="17" fill="#ff0000">P16</text>
<text transform="translate(1409.50,148.75) scale(1,1.02)" font-size="17.75" fill="#0000cc">PL_01/XXXXXXX</text>
<text transform="translate(1423.70,168.63) scale(1,1.02)" font-size="17.75" fill="#0000cc">PL_02/XXXXX</text>
<text transform="translate(1429.70,188.51) scale(1,1.02)" font-size="17.75" fill="#0000cc">PL_03/XXXX</text>
<text transform="translate(1428.70,208.39) scale(1,1.02)" font-size="17.75" fill="#0000cc">PL_04/XXX</text>
<text transform="translate(1404.60,228.27) scale(1,1.02)" font-size="17.75" fill="#0000cc">PD_14/XXXX</text>
<text transform="translate(1404.60,248.15) scale(1,1.02)" font-size="17.75" fill="#0000cc">PD_15/XXXX</text>
<text transform="translate(1382.40,287.91) scale(1,1.02)" font-size="17.75" fill="#0000cc">PE_00/UART0_RX</text>
<text transform="translate(1402.70,307.79) scale(1,1.02)" font-size="17.75" fill="#0000cc">PE_01/XXXX</text>
<text transform="translate(1406.30,327.67) scale(1,1.02)" font-size="17.75" fill="#0000cc">PL_10/XXXX</text>
<text transform="translate(1406.30,347.55) scale(1,1.02)" font-size="17.75" fill="#0000cc">PL_11/XXXX</text>
<text transform="translate(1406.30,367.43) scale(1,1.02)" font-size="17.75" fill="#0000cc">PL_12/XXXX</text>
<text transform="translate(1403.30,387.31) scale(1,1.02)" font-size="17.75" fill="#0000cc">PH_00/XXXX</text>
<text transform="translate(1422.40,446.95) scale(1,1.02)" font-size="17.75" fill="#0000cc">PF_00/XXXX</text>
<text transform="translate(1410.20,466.83) scale(1,1.02)" font-size="17.75" fill="#0000cc">PF_01/XXXX</text>
<polyline points="517.00,428.55 506.20,438.45 517.00,448.35" fill="none" stroke="#000000" stroke-width="1.8"/>
<polyline points="527.80,428.55 517.00,438.45 527.80,448.35" fill="none" stroke="#000000" stroke-width="1.8"/>
<line x1="526.60" y1="438.45" x2="805.50" y2="438.45" stroke="#3c00ff" stroke-width="1.8"/>
<line x1="805.50" y1="438.45" x2="864.90" y2="438.45" stroke="#a8853a" stroke-width="1.8"/>
<polyline points="514.50,450.23 506.40,458.33 514.50,466.43" fill="none" stroke="#000000" stroke-width="1.8"/>
<polyline points="524.90,450.23 516.80,458.33 524.90,466.43" fill="none" stroke="#000000" stroke-width="1.8"/>
<polyline points="528.40,450.23 536.50,458.33 528.40,466.43" fill="none" stroke="#000000" stroke-width="1.8"/>
<polyline points="537.60,450.23 545.70,458.33 537.60,466.43" fill="none" stroke="#000000" stroke-width="1.8"/>
<line x1="545.70" y1="458.33" x2="805.50" y2="458.33" stroke="#3c00ff" stroke-width="1.8"/>
<line x1="805.50" y1="458.33" x2="864.90" y2="458.33" stroke="#a8853a" stroke-width="1.8"/>
<text transform="translate(495.50,446.95) scale(1,1.07)" font-size="17" fill="#ff0000" text-anchor="end">RGMII_A_MDC</text>
<text transform="translate(492.30,464.83) scale(1,1.07)" font-size="17" fill="#ff0000" text-anchor="end">RGMII_A_MDIO</text>
<text transform="translate(289.30,446.95) scale(1,1.07)" font-size="17" fill="#ff0000">P16,20</text>
<text transform="translate(281.50,464.83) scale(1,1.07)" font-size="17" fill="#ff0000">P16,20</text>
<text transform="translate(850.80,433.95) scale(1,1.02)" font-size="17.75" fill="#000000" text-anchor="end">V23</text>
<text transform="translate(850.80,453.83) scale(1,1.02)" font-size="17.75" fill="#000000" text-anchor="end">R19</text>
<text transform="translate(875.00,446.95) scale(1,1.02)" font-size="17.75" fill="#0000cc" textLength="317.96" lengthAdjust="spacingAndGlyphs">PD_12/GMAC0_MDC/PFE_MAC1_MDC</text>
<text transform="translate(875.00,466.83) scale(1,1.02)" font-size="17.75" fill="#0000cc" textLength="329.69" lengthAdjust="spacingAndGlyphs">PD_13/GMAC0_MDIO/PFE_MAC1_MDIO</text>
<line x1="586.20" y1="458.33" x2="586.20" y2="519.20" stroke="#3c00ff" stroke-width="1.8"/>
<line x1="347.30" y1="518.20" x2="447.80" y2="518.20" stroke="#3c00ff" stroke-width="1.8"/>
<line x1="447.80" y1="518.20" x2="467.70" y2="518.20" stroke="#a8853a" stroke-width="1.8"/>
<polyline points="467.70,518.20 473.10,524.20 485.20,512.20 497.00,524.20 509.10,512.20 520.90,524.20 526.70,518.20" fill="none" stroke="#cc7a00" stroke-width="1.7"/>
<line x1="526.70" y1="518.20" x2="545.60" y2="518.20" stroke="#a8853a" stroke-width="1.8"/>
<line x1="545.60" y1="518.20" x2="587.20" y2="518.20" stroke="#3c00ff" stroke-width="1.8"/>
<circle cx="473.30" cy="514.20" r="3.5" fill="#cc7a00"/>
<line x1="347.30" y1="519.20" x2="347.30" y2="497.00" stroke="#000000" stroke-width="1.8"/>
<line x1="337.00" y1="497.00" x2="358.10" y2="497.00" stroke="#000000" stroke-width="1.8"/>
<text transform="translate(307.40,492.40) scale(1,1.07)" font-size="17" fill="#000000">RGMII_VDD</text>
<text transform="translate(386.30,514.60) scale(1,1.07)" font-size="17" fill="#000000">R756</text>
<text transform="translate(525.60,514.60) scale(1,1.07)" font-size="17" fill="#000000">4.7K</text>
<circle cx="585.90" cy="458.33" r="4.4" fill="#ff0000"/>
<polyline points="517.00,865.91 506.20,875.81 517.00,885.71" fill="none" stroke="#000000" stroke-width="1.8"/>
<polyline points="527.80,865.91 517.00,875.81 527.80,885.71" fill="none" stroke="#000000" stroke-width="1.8"/>
<line x1="526.60" y1="875.81" x2="805.50" y2="875.81" stroke="#3c00ff" stroke-width="1.8"/>
<line x1="805.50" y1="875.81" x2="864.90" y2="875.81" stroke="#a8853a" stroke-width="1.8"/>
<polyline points="514.50,887.59 506.40,895.69 514.50,903.79" fill="none" stroke="#000000" stroke-width="1.8"/>
<polyline points="524.90,887.59 516.80,895.69 524.90,903.79" fill="none" stroke="#000000" stroke-width="1.8"/>
<polyline points="528.40,887.59 536.50,895.69 528.40,903.79" fill="none" stroke="#000000" stroke-width="1.8"/>
<polyline points="537.60,887.59 545.70,895.69 537.60,903.79" fill="none" stroke="#000000" stroke-width="1.8"/>
<line x1="545.70" y1="895.69" x2="805.50" y2="895.69" stroke="#3c00ff" stroke-width="1.8"/>
<line x1="805.50" y1="895.69" x2="864.90" y2="895.69" stroke="#a8853a" stroke-width="1.8"/>
<text transform="translate(495.50,884.31) scale(1,1.07)" font-size="17" fill="#ff0000" text-anchor="end">RGMII_B_MDC</text>
<text transform="translate(492.30,902.19) scale(1,1.07)" font-size="17" fill="#ff0000" text-anchor="end">RGMII_B_MDIO</text>
<text transform="translate(289.30,884.31) scale(1,1.07)" font-size="17" fill="#ff0000">P16,21</text>
<text transform="translate(281.50,902.19) scale(1,1.07)" font-size="17" fill="#ff0000">P16,21</text>
<text transform="translate(850.80,871.31) scale(1,1.02)" font-size="17.75" fill="#000000" text-anchor="end">Y21</text>
<text transform="translate(850.80,891.19) scale(1,1.02)" font-size="17.75" fill="#000000" text-anchor="end">V17</text>
<text transform="translate(875.00,884.31) scale(1,1.02)" font-size="17.75" fill="#0000cc" textLength="346.26" lengthAdjust="spacingAndGlyphs">PF_02/PFE_MAC0_MDC/PFE_MAC2_MDC</text>
<text transform="translate(875.00,904.19) scale(1,1.02)" font-size="17.75" fill="#0000cc" textLength="357.99" lengthAdjust="spacingAndGlyphs">PE_15/PFE_MAC0_MDIO/PFE_MAC2_MDIO</text>
<line x1="586.05" y1="895.69" x2="586.05" y2="916.20" stroke="#3c00ff" stroke-width="1.8"/>
<line x1="586.05" y1="916.20" x2="586.05" y2="935.30" stroke="#a8853a" stroke-width="1.8"/>
<polyline points="586.05,935.30 593.05,941.50 579.25,953.10 593.05,965.60 579.25,977.20 593.05,988.90 586.05,994.70" fill="none" stroke="#cc7a00" stroke-width="1.7"/>
<line x1="586.05" y1="994.70" x2="586.05" y2="1014.60" stroke="#a8853a" stroke-width="1.8"/>
<line x1="586.05" y1="1014.60" x2="586.05" y2="1055.20" stroke="#3c00ff" stroke-width="1.8"/>
<line x1="467.10" y1="1054.20" x2="587.05" y2="1054.20" stroke="#3c00ff" stroke-width="1.8"/>
<line x1="467.10" y1="1055.20" x2="467.10" y2="1034.20" stroke="#3c00ff" stroke-width="1.8"/>
<line x1="467.10" y1="1034.20" x2="467.10" y2="1015.30" stroke="#000000" stroke-width="1.8"/>
<line x1="456.10" y1="1015.30" x2="477.50" y2="1015.30" stroke="#000000" stroke-width="1.8"/>
<circle cx="582.90" cy="941.80" r="3.5" fill="#cc7a00"/>
<text transform="translate(426.80,1009.90) scale(1,1.07)" font-size="17" fill="#000000">RGMII_VDD</text>
<text transform="translate(570.80,1011.00) rotate(-90) scale(1,1.07)" font-size="17" fill="#000000">R643</text>
<text transform="translate(570.80,963.90) rotate(-90) scale(1,1.07)" font-size="17" fill="#000000">4.7K</text>
<circle cx="585.90" cy="895.69" r="4.4" fill="#ff0000"/>
</svg></body></html>
